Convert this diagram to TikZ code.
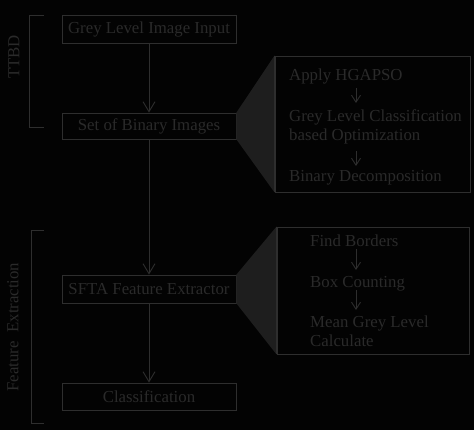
\documentclass[tikz,border=0pt]{standalone}
\usepackage{fontspec}
\setmainfont{Liberation Serif}
\usetikzlibrary{arrows.meta}
\definecolor{ln}{RGB}{46,46,46}
\definecolor{tx}{RGB}{42,42,42}
\definecolor{trapfill}{RGB}{30,30,30}
\definecolor{bg}{RGB}{3,3,3}
\tikzset{
  box/.style={draw=ln, line width=0.9pt, minimum width=174pt, inner sep=0pt, text=tx, font=\fontsize{16.8}{19}\selectfont},
  bigbox/.style={draw=ln, line width=0.9pt, inner sep=0pt},
  itext/.style={anchor=base west, inner sep=0pt, text=tx, font=\fontsize{16.8}{19}\selectfont},
  mainarr/.style={draw=ln, line width=0.9pt, -{Straight Barb[length=10pt,width=12pt,line width=0.9pt]}},
  smallarr/.style={draw=ln, line width=0.9pt, -{Straight Barb[length=7pt,width=9pt,line width=0.9pt]}},
  brk/.style={draw=ln, line width=0.9pt},
  trap/.style={fill=trapfill},
  sidelabel/.style={rotate=90, text=tx, inner sep=0pt, font=\fontsize{16.8}{19}\selectfont}
}
\begin{document}
\begin{tikzpicture}[x=1pt,y=-1pt]
\fill[bg] (0,0) rectangle (474,430);
\useasboundingbox (0,0) rectangle (474,430);

% main boxes
\node[box, minimum height=28pt] (b1) at (149,29) {Grey Level Image Input};
\node[box, minimum height=26pt] (b2) at (149,126) {Set of Binary Images};
\node[box, minimum height=28pt] (b3) at (149,289) {SFTA Feature Extractor};
\node[box, minimum height=27pt] (b4) at (149,396.5) {Classification};

% right boxes
\node[bigbox, minimum width=195pt, minimum height=136pt] (r1) at (372.5,124) {};
\node[bigbox, minimum width=192pt, minimum height=127pt] (r2) at (373,290.5) {};

% trapezoids
\fill[trap] (b2.north east) -- (r1.north west) -- (r1.south west) -- (b2.south east) -- cycle;
\fill[trap] (b3.north east) -- (r2.north west) -- (r2.south west) -- (b3.south east) -- cycle;
\draw[ln, line width=0.9pt] (r1.north west) -- (r1.south west);
\draw[ln, line width=0.9pt] (r2.north west) -- (r2.south west);

% main arrows
\draw[mainarr] (b1.south) -- (b2.north);
\draw[mainarr] (b2.south) -- (b3.north);
\draw[mainarr] (b3.south) -- (b4.north);

% inner texts box 1
\node[itext] (t1) at (289,81) {Apply HGAPSO};
\node[itext] (t2) at (289,122) {Grey Level Classification};
\node[itext] (t3) at (289,141) {based Optimization};
\node[itext] (t4) at (289,182) {Binary Decomposition};
\coordinate (a1s) at (356,88);
\coordinate (a1e) at (356,103);
\coordinate (a2s) at (356,151);
\coordinate (a2e) at (356,166);
\draw[smallarr] (a1s) -- (a1e);
\draw[smallarr] (a2s) -- (a2e);

% inner texts box 2
\node[itext] (u1) at (310,247) {Find Borders};
\node[itext] (u2) at (310,288) {Box Counting};
\node[itext] (u3) at (310,328) {Mean Grey Level};
\node[itext] (u4) at (310,347) {Calculate};
\coordinate (c1s) at (356,249);
\coordinate (c1e) at (356,270);
\coordinate (c2s) at (356,290);
\coordinate (c2e) at (356,310);
\draw[smallarr] (c1s) -- (c1e);
\draw[smallarr] (c2s) -- (c2e);

% brackets
\draw[brk] (44,15) -- (29,15) -- (29,127) -- (44,127);
\draw[brk] (44,230) -- (31,230) -- (31,423) -- (44,423);
\node[sidelabel] (l1) at (14,57) {TTBD};
\node[sidelabel] (l2) at (13,327) {Feature\ \ Extraction};
\end{tikzpicture}
\end{document}
